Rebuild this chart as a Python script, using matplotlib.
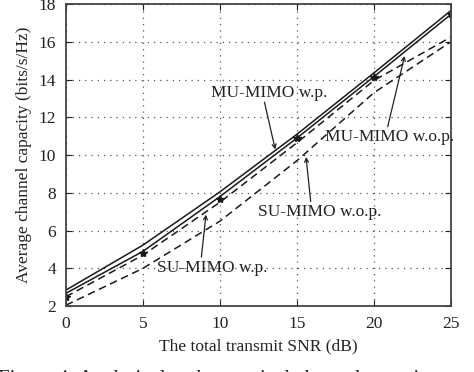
import matplotlib
matplotlib.use("Agg")
import matplotlib.pyplot as plt

plt.rcParams['font.family'] = ['Liberation Serif', 'DejaVu Serif']

snr = [0, 5, 10, 15, 20, 25]
mu_wp = [2.85, 5.23, 8.05, 11.1, 14.35, 17.65]
su_wp = [2.68, 4.9, 7.8, 10.9, 14.15, 17.45]
mu_wop = [2.5, 4.7, 7.5, 10.65, 13.95, 16.25]
su_wop = [2.05, 4.0, 6.5, 9.7, 13.3, 16.0]
sim = [2.5, 4.8, 7.7, 10.9, 14.15, 17.5]

xticks = [0, 5, 10, 15, 20, 25]
yticks = [2, 4, 6, 8, 10, 12, 14, 16, 18]

fig = plt.figure(figsize=(4.74, 3.72), dpi=100)
ax = fig.add_axes([0.139, 0.177, 0.812, 0.812])

ax.plot(snr, mu_wp, color='#1a1a1a', lw=1.1, ls='-')
ax.plot(snr, su_wp, color='#1a1a1a', lw=1.1, ls='-')
ax.plot(snr, mu_wop, color='#1a1a1a', lw=1.1, ls=(0, (5, 3)))
ax.plot(snr, su_wop, color='#1a1a1a', lw=1.1, ls=(0, (5, 3)))
ax.plot(snr, sim, ls='none', marker='*', color='#1a1a1a', ms=6)

ax.set_xlim(0, 25)
ax.set_ylim(2, 18)
ax.set_xticks(xticks)
ax.set_yticks(yticks)
ax.tick_params(direction='in', top=True, right=True, labelsize=12.5, length=4, colors='#222222', pad=7)
ax.grid(True, ls=(0, (1, 4)), color='#555555', lw=0.9)
for s in ax.spines.values():
    s.set_linewidth(1.3)
    s.set_color('#444444')

ax.set_xlabel('The total transmit SNR (dB)', fontsize=12.5, color='#222222', labelpad=5)
ax.set_ylabel('Average channel capacity (bits/s/Hz)', fontsize=12.5, color='#222222', labelpad=5)

arrow = dict(arrowstyle='->', color='#222222', lw=0.9, shrinkA=0, shrinkB=0, mutation_scale=7)
ax.text(13.2, 13.3, 'MU-MIMO w.p.', ha='center', va='center', fontsize=12.5, color='#222222')
ax.annotate('', xy=(13.6, 10.3), xytext=(12.9, 12.8), arrowprops=dict(arrow))
ax.text(21.0, 10.95, 'MU-MIMO w.o.p.', ha='center', va='center', fontsize=12.5, color='#222222')
ax.annotate('', xy=(22.0, 15.25), xytext=(20.9, 11.5), arrowprops=dict(arrow))
ax.text(16.5, 7.0, 'SU-MIMO w.o.p.', ha='center', va='center', fontsize=12.5, color='#222222')
ax.annotate('', xy=(15.6, 9.9), xytext=(15.9, 7.55), arrowprops=dict(arrow))
ax.text(9.5, 4.0, 'SU-MIMO w.p.', ha='center', va='center', fontsize=12.5, color='#222222')
ax.annotate('', xy=(9.1, 6.85), xytext=(8.8, 4.6), arrowprops=dict(arrow))

fig.text(-0.005, 0.008, 'Figure 4: Analytical and numerical channel capacity comparison for SU',
         fontsize=15, va='top', ha='left', color='#222222')

fig.savefig('out.png', dpi=100)
